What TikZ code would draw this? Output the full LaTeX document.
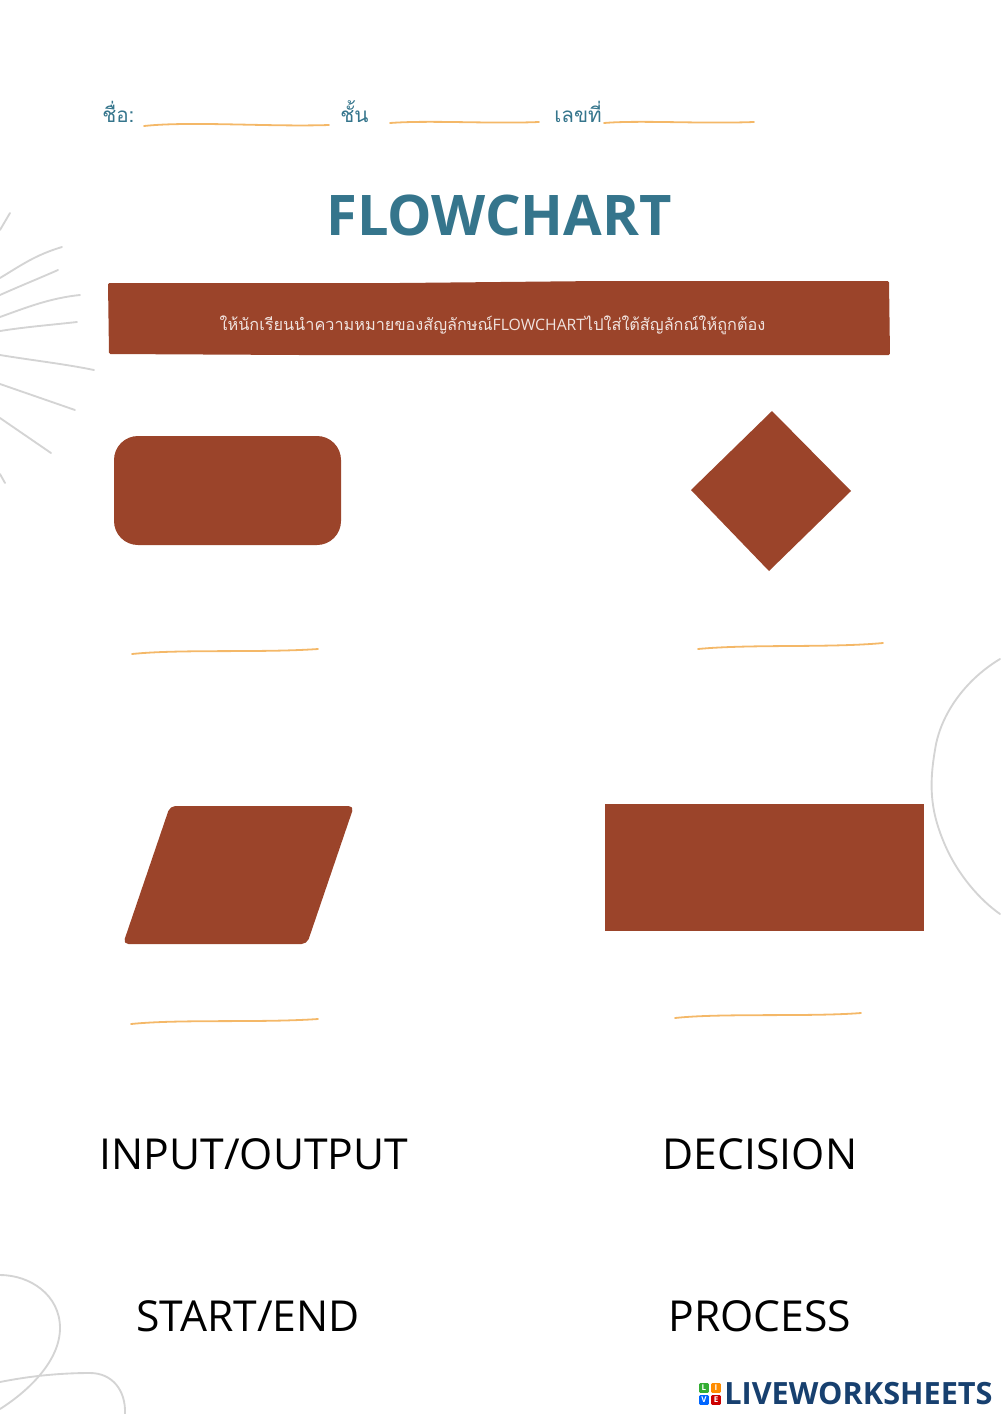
\documentclass[tikz,border=0pt]{standalone}
\usepackage{fontspec}
\setmainfont{Open Sans}
\newfontfamily\thaifont[Script=Thai]{Loma}
\newfontfamily\logofont{Open Sans}
\definecolor{rust}{HTML}{9B442A}
\definecolor{teal}{HTML}{35758C}
\definecolor{penline}{HTML}{F4B868}
\definecolor{sketch}{HTML}{D4D4D4}
\definecolor{navy}{HTML}{17406F}
\tikzset{
  x=0.75pt,y=-0.75pt,
  shapefill/.style={fill=rust,draw=none},
  answer/.style={draw=penline,line width=1.35pt,line cap=round},
  doodle/.style={draw=sketch,line width=1.4pt,line cap=round},
  headlabel/.style={text=teal,font=\thaifont\fontsize{15.5}{20}\selectfont,inner sep=0pt},
  choice/.style={text=black,font=\fontsize{32}{38}\selectfont,inner sep=0pt},
  logobox/.style={minimum size=7.2pt,inner sep=0pt,text=white,font=\logofont\bfseries\fontsize{6}{6}\selectfont,rounded corners=0.8pt},
}
\begin{document}
\begin{tikzpicture}
\useasboundingbox (0,0) rectangle (1000,1414);
% header
\node[headlabel,anchor=west] (name) at (102,111.5) {ชื่อ:};
\node[headlabel,anchor=west] (klass) at (340,111.5) {ชั้น};
\node[headlabel,anchor=west] (number) at (554,111.5) {เลขที่};
\draw[answer] (144,126) .. controls (190,121) and (270,127) .. (329,125);
\draw[answer] (390,123) .. controls (430,120) and (490,124) .. (539,122);
\draw[answer] (604,123) .. controls (640,120) and (700,124) .. (754,122);
\node[text=teal,font=\bfseries\fontsize{42}{48}\selectfont,inner sep=0pt] (title) at (499,215) {FLOWCHART};
% banner
\fill[rust,rounded corners=1pt] (108,283) -- (400,283) -- (600,281) -- (889,281) -- (890,355) -- (600,355) -- (300,355) -- (109,354) -- cycle;
\node[text=white!85!rust,font=\thaifont\fontsize{12.2}{16}\selectfont,inner sep=0pt] (task) at (492.5,325) {ให้นักเรียนนำความหมายของสัญลักษณ์{\rmfamily\fontsize{11.8}{16}\selectfont FLOWCHART}ไปใส่ใต้สัญลักณ์ให้ถูกต้อง};
% shapes
\fill[shapefill,rounded corners=18pt] (114,436) rectangle (341,545);
\fill[shapefill] (772,411) -- (851,491) -- (769,571) -- (691,490) -- cycle;
\fill[shapefill,rounded corners=4pt] (170,806) -- (354,806) -- (307,944) -- (123,944) -- cycle;
\fill[shapefill] (605,804) rectangle (924,931);
% answer lines
\draw[answer] (132,654) .. controls (180,649) and (260,653) .. (318,649);
\draw[answer] (698,649) .. controls (750,644) and (830,648) .. (883,643);
\draw[answer] (131,1024) .. controls (180,1019) and (260,1023) .. (318,1019);
\draw[answer] (675,1018) .. controls (720,1013) and (810,1017) .. (861,1013);
% choices
\node[choice] (io) at (254,1154) {INPUT/OUTPUT};
\node[choice] (dec) at (760,1154) {DECISION};
\node[choice] (se) at (248,1316) {START/END};
\node[choice] (proc) at (760,1316) {PROCESS};
% doodles left rays
\draw[doodle] (0,230) -- (10,213);
\draw[doodle] (0,278) .. controls (20,266) and (35,255) .. (62,247);
\draw[doodle] (0,295) .. controls (20,286) and (40,278) .. (58,270);
\draw[doodle] (0,317) .. controls (25,308) and (50,298) .. (80,295);
\draw[doodle] (0,331) .. controls (25,327) and (50,325) .. (77,322);
\draw[doodle] (0,355) .. controls (30,360) and (65,364) .. (94,370);
\draw[doodle] (0,384) -- (75,410);
\draw[doodle] (0,418) -- (51,453);
\draw[doodle] (0,474) -- (5,483);
% right arc
\draw[doodle] (1000,659) .. controls (965,680) and (940,715) .. (935,750) .. controls (928,790) and (932,815) .. (945,845) .. controls (958,875) and (980,900) .. (1000,914);
% bottom-left loops
\draw[doodle] (0,1275) .. controls (30,1275) and (60,1295) .. (60,1328) .. controls (60,1360) and (30,1390) .. (0,1409);
\draw[doodle] (0,1382) .. controls (30,1376) and (60,1373) .. (90,1373) .. controls (112,1373) and (126,1390) .. (125,1414);
% logo
\node[logobox,fill=green!60!black!80!white] (lgl) at (704,1388) {L};
\node[logobox,fill=orange!90!yellow] (lgi) at (716,1388) {I};
\node[logobox,fill=blue!60!cyan] (lgv) at (704,1400) {V};
\node[logobox,fill=red!80!black] (lge) at (716,1400) {E};
\node[anchor=west,text=navy,font=\bfseries\fontsize{23}{24}\selectfont,inner sep=0pt] (logo) at (724,1394) {LIVEWORKSHEETS};
\end{tikzpicture}
\end{document}
